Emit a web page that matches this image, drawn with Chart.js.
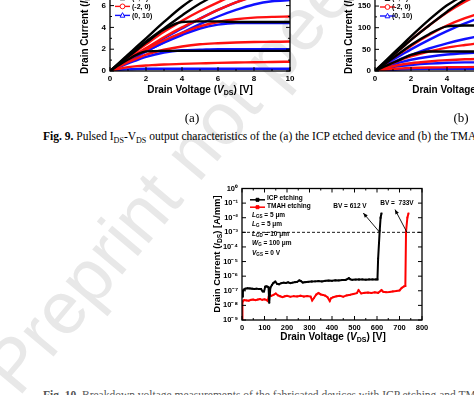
<!DOCTYPE html>
<html>
<head>
<meta charset="utf-8">
<title>Fig. 9 / Fig. 10</title>
<script src="https://cdn.jsdelivr.net/npm/chart.js@4.4.1/dist/chart.umd.min.js"></script>
<style>
  html, body { margin: 0; padding: 0; background: #fff; }
  body { position: relative; width: 474px; height: 395px; overflow: hidden; }
  .box { position: absolute; }
  .txt { position: absolute; white-space: nowrap; font-family: "Liberation Sans", Arial, sans-serif; font-weight: bold; color: #000; line-height: 1; }
  .mid { transform: translate(-50%, -50%); }
  .lft { transform: translateY(-50%); }
  .rot { transform: translate(-50%, -50%) rotate(-90deg); }
  .rotb { transform-origin: 0 0; transform: rotate(-90deg); line-height: 12px; }
  sub { font-size: 70%; vertical-align: -0.3em; line-height: 0; }
  .serif { font-family: "Liberation Serif", "Times New Roman", serif; font-weight: normal; }
  #wm { position: absolute; left: 30px; top: 328px; height: 80px; line-height: 80px; transform-origin: 0 100%; transform: rotate(-50deg);
        font-family: "Liberation Sans", Arial, sans-serif; font-size: 74px; color: #e8e8e8; white-space: nowrap; }
</style>
</head>
<body>
<div id="wm">Preprint not peer reviewed</div>

<div class="box" style="left:60px;top:-25px;width:245px;height:111px"><canvas id="chartA"></canvas></div>
<div class="box" style="left:325px;top:-25px;width:245px;height:111px"><canvas id="chartB"></canvas></div>
<div class="box" style="left:190px;top:180px;width:245px;height:155px"><canvas id="chartMain"></canvas></div>

<!-- (a) -->
<div class="txt lft" style="left:132px;top:-3px;font-size:7px">(0, 0)</div>
<div class="txt lft" style="left:132px;top:6px;font-size:7px">(-2, 0)</div>
<div class="txt lft" style="left:132px;top:15px;font-size:7px">(0, 10)</div>
<div class="txt rotb" style="left:79px;top:74px;font-size:10px">Drain Current (<i>I</i><sub>DS</sub>) [A/mm]</div>
<div class="txt mid" style="left:200px;top:90px;font-size:10px">Drain Voltage (<i>V</i><sub>DS</sub>) [V]</div>
<div class="txt mid serif" style="left:192px;top:117px;font-size:13px">(a)</div>

<!-- (b) -->
<div class="txt lft" style="left:392px;top:-3px;font-size:7px">(0, 0)</div>
<div class="txt lft" style="left:392px;top:6px;font-size:7px">(-2, 0)</div>
<div class="txt lft" style="left:392px;top:15px;font-size:7px">(0, 10)</div>
<div class="txt rotb" style="left:343px;top:74px;font-size:10px">Drain Current (<i>I</i><sub>DS</sub>) [mA/mm]</div>
<div class="txt mid" style="left:465px;top:90px;font-size:10px">Drain Voltage (<i>V</i><sub>DS</sub>) [V]</div>
<div class="txt mid serif" style="left:461px;top:117px;font-size:13px">(b)</div>

<div class="txt lft serif" style="left:43px;top:137px;font-size:11.5px"><b>Fig. 9.</b> Pulsed I<sub>DS</sub>-V<sub>DS</sub> output characteristics of the (a) the ICP etched device and (b) the TMAH etched device.</div>

<!-- breakdown chart -->
<div class="txt rot" style="left:217px;top:254px;font-size:9.5px">Drain Current (<i>I</i><sub>DS</sub>) [A/mm]</div>
<div class="txt mid" style="left:333px;top:337px;font-size:10px">Drain Voltage (<i>V</i><sub>DS</sub>) [V]</div>
<div class="txt lft" style="left:267px;top:198px;font-size:6.5px">ICP etching</div>
<div class="txt lft" style="left:267px;top:206px;font-size:6.5px">TMAH etching</div>
<div class="txt lft" style="left:252px;top:215px;font-size:6.5px"><i>L</i><sub>GS</sub> = 5 &mu;m</div>
<div class="txt lft" style="left:252px;top:224px;font-size:6.5px"><i>L</i><sub>G</sub> = 5 &mu;m</div>
<div class="txt lft" style="left:252px;top:233.5px;font-size:6.5px"><i>L</i><sub>GD</sub> = 10 &mu;m</div>
<div class="txt lft" style="left:252px;top:243px;font-size:6.5px"><i>W</i><sub>G</sub> = 100 &mu;m</div>
<div class="txt lft" style="left:252px;top:252.5px;font-size:6.5px"><i>V</i><sub>GS</sub> = 0 V</div>
<div class="txt mid" style="left:350px;top:206px;font-size:6.5px">BV = 612 V</div>
<div class="txt mid" style="left:397px;top:203px;font-size:6.5px">BV =&nbsp; 733V</div>

<div class="txt serif" style="left:43px;top:390px;font-size:11.5px;color:#555"><b>Fig. 10.</b> Breakdown voltage measurements of the fabricated devices with ICP etching and TMAH etching.</div>

<script>
// 1) pulsed I-V data (x = V_DS)
const vdTop = [0, 0.5, 1, 1.5, 2, 3, 4, 5, 6, 7, 8, 9, 10];

// (a) ICP etched, A/mm
const aBlack = [
  [0, 0.55, 1.05, 1.5, 1.8, 1.85, 1.85, 1.85, 1.85, 1.85, 1.85, 1.85, 1.85],
  [0, 0.65, 1.3, 1.95, 2.6, 3.8, 4.5, 4.55, 4.55, 4.5, 4.5, 4.5, 4.5],
  [0, 0.75, 1.5, 2.25, 3.0, 4.5, 5.9, 7.0, 7.6, 7.9, 8.0, 8.0, 8.0],
  [0, 0.7, 1.4, 2.05, 2.7, 3.9, 5.1, 6.2, 7.0, 7.5, 7.8, 7.9, 8.0]
];
const aRed = [
  [0, 0.2, 0.35, 0.45, 0.5, 0.6, 0.65, 0.7, 0.75, 0.78, 0.8, 0.83, 0.85],
  [0, 0.4, 0.8, 1.15, 1.5, 1.95, 2.25, 2.45, 2.55, 2.62, 2.66, 2.68, 2.7],
  [0, 0.5, 1.0, 1.5, 1.95, 2.8, 3.5, 4.1, 4.5, 4.75, 4.9, 4.97, 5.0],
  [0, 0.55, 1.1, 1.6, 2.1, 3.1, 4.0, 4.8, 5.6, 6.3, 6.8, 7.1, 7.2],
  [0, 0.6, 1.25, 1.85, 2.45, 3.6, 4.6, 5.5, 6.3, 7.0, 7.5, 7.8, 8.0]
];
const aBlue = [
  [0, 0.1, 0.15, 0.18, 0.2, 0.2, 0.2, 0.2, 0.2, 0.2, 0.2, 0.2, 0.2],
  [0, 0.35, 0.7, 1.0, 1.3, 1.7, 1.9, 1.95, 2.0, 2.0, 2.0, 2.0, 2.0],
  [0, 0.45, 0.9, 1.35, 1.8, 2.6, 3.3, 3.9, 4.25, 4.4, 4.4, 4.4, 4.4],
  [0, 0.45, 0.9, 1.35, 1.8, 2.65, 3.5, 4.3, 5.0, 5.6, 6.1, 6.4, 6.5],
  [0, 0.5, 1.0, 1.5, 2.0, 3.0, 3.9, 4.8, 5.6, 6.3, 6.9, 7.3, 7.6]
];

// (b) TMAH etched, mA/mm
const bBlack = [
  [0, 10, 19, 28, 37, 45, 45, 45, 45, 45, 45, 45, 45],
  [0, 15, 30, 45, 60, 85, 103, 105, 105, 105, 105, 105, 105],
  [0, 20, 40, 60, 80, 118, 152, 175, 190, 198, 202, 205, 206],
  [0, 18, 36, 54, 72, 105, 137, 165, 182, 192, 198, 201, 203]
];
const bRed = [
  [0, 3, 5, 6, 7, 8, 8.5, 9, 9.5, 10, 10, 10, 10],
  [0, 6, 11, 15, 18, 22, 25, 27, 28, 29, 30, 30, 30],
  [0, 10, 19, 27, 34, 45, 54, 60, 65, 68, 70, 71, 72],
  [0, 15, 30, 44, 58, 83, 105, 122, 135, 143, 148, 151, 153],
  [0, 18, 36, 54, 72, 105, 135, 160, 180, 193, 200, 203, 205]
];
const bBlue = [
  [0, 1.5, 3, 4, 4.5, 5, 5, 5, 5, 5, 5, 5, 5],
  [0, 5, 9, 12, 14, 17, 19, 20, 20, 20, 20, 20, 20],
  [0, 8, 15, 21, 26, 33, 38, 41, 43, 44, 45, 45, 45],
  [0, 10, 20, 29, 37, 52, 64, 74, 82, 88, 92, 94, 95],
  [0, 13, 26, 38, 50, 72, 92, 110, 125, 137, 146, 152, 155]
];

// 2) breakdown data
const vIcp = [0, 4, 8, 15, 25, 35, 45, 55, 65, 75, 85, 92, 98, 103, 108, 113, 118, 121, 126, 133,
  140, 148, 156, 165, 175, 185, 195, 205, 215, 225, 235, 245, 255, 262, 270, 280, 295, 310, 325, 340,
  355, 370, 385, 400, 415, 430, 445, 460, 475, 482, 490, 505, 520, 535, 550, 565, 580, 595, 602, 605,
  612, 616, 620];
const iIcp = [4e-8, 1e-7, 1.2e-7, 1.4e-7, 1.5e-7, 1.45e-7, 1.4e-7, 1.35e-7, 1.4e-7, 1.3e-7, 1.3e-7, 9e-8, 9e-8, 1.9e-7, 2e-7, 1.9e-7, 1.7e-7, 1.5e-8, 1.6e-7, 2.5e-7,
  3.5e-7, 4.2e-7, 3e-7, 2.8e-7, 3.3e-7, 3.6e-7, 3.4e-7, 3.8e-7, 3.3e-7, 3.6e-7, 3.9e-7, 4.1e-7, 5.2e-7, 4.6e-7, 3.7e-7, 3.9e-7, 4.1e-7, 4.3e-7, 4.4e-7, 4.6e-7,
  4.4e-7, 4.8e-7, 5e-7, 4.8e-7, 5.2e-7, 5.1e-7, 5.4e-7, 5.5e-7, 7.2e-7, 6e-7, 5.6e-7, 5.8e-7, 5.9e-7, 6e-7, 5.8e-7, 6e-7, 6e-7, 6e-7, 6e-7, 1.6e-5,
  1.3e-3, 1e-2, 2e-2];
const vTmah = [0, 2, 5, 10, 20, 30, 40, 50, 60, 70, 80, 90, 100, 108, 114, 119, 124, 130, 140, 150,
  160, 170, 180, 190, 200, 215, 230, 245, 260, 275, 290, 305, 312, 320, 330, 340, 350, 360, 370, 380,
  390, 395, 405, 420, 435, 450, 465, 480, 495, 510, 518, 530, 545, 560, 575, 590, 605, 620, 628, 640,
  655, 670, 685, 700, 710, 720, 726, 729, 735, 740];
const iTmah = [1e-9, 1.6e-8, 2e-8, 2.3e-8, 2.2e-8, 2.1e-8, 2.4e-8, 2.5e-8, 2.3e-8, 2.5e-8, 2.7e-8, 2.4e-8, 2.6e-8, 2.4e-8, 2e-8, 4.2e-8, 5e-8, 4.5e-8, 5.2e-8, 6.5e-8,
  4.8e-8, 4.2e-8, 3.6e-8, 4.2e-8, 4.5e-8, 3.9e-8, 4.3e-8, 4.1e-8, 4.6e-8, 4e-8, 4.3e-8, 4e-8, 2.2e-8, 3.2e-8, 5.5e-8, 7e-8, 5.6e-8, 5.2e-8, 4.6e-8, 3.6e-8,
  2e-8, 3e-8, 3.6e-8, 4.2e-8, 4.5e-8, 3.9e-8, 4.8e-8, 5.3e-8, 6e-8, 6.8e-8, 1.1e-7, 6.5e-8, 7.2e-8, 7.5e-8, 7e-8, 7.8e-8, 7.2e-8, 1.1e-7, 8.5e-8, 8e-8,
  8.3e-8, 9e-8, 9.5e-8, 1.05e-7, 1.6e-7, 2e-7, 2.1e-7, 1.1e-3, 1e-2, 2e-2];

// 1 mA/mm criterion line and the BV arrows (tail on the line, head near the label)
const critV = [0, 800];
const critI = [1e-3, 1e-3];
const bvV = [612, 733];
const arrowHeadV = [539, 680];
const arrowHeadI = [2.1e-2, 3.6e-2];

// 3) ticks
const mainXTicks = [0, 100, 200, 300, 400, 500, 600, 700, 800];
const mainXMinor = [50, 150, 250, 350, 450, 550, 650, 750];
const mainYTicks = [1e-9, 1e-8, 1e-7, 1e-6, 1e-5, 1e-4, 1e-3, 1e-2, 1e-1, 1];
const topXMinor = [1, 3, 5, 7, 9];
const aYMinor = [1, 3, 5, 7];
const bYMinor = [25, 75, 125, 175];

const FONT = "'Liberation Sans', Arial, sans-serif";
const SUP = { '-': '\u207B', '0': '\u2070', '1': '\u00B9', '2': '\u00B2', '3': '\u00B3', '4': '\u2074',
  '5': '\u2075', '6': '\u2076', '7': '\u2077', '8': '\u2078', '9': '\u2079' };
const sup = n => String(n).split('').map(c => SUP[c]).join('');

// frame with inward ticks on all four sides (Origin style)
const framePlugin = {
  id: 'frame',
  afterDatasetsDraw(chart, args, opts) {
    const { ctx, chartArea: a, scales: { x, y } } = chart;
    const seg = (x1, y1, x2, y2) => { ctx.beginPath(); ctx.moveTo(x1, y1); ctx.lineTo(x2, y2); ctx.stroke(); };
    ctx.save();
    ctx.strokeStyle = '#000';
    ctx.lineWidth = 1;
    x.ticks.forEach(t => {
      const p = x.getPixelForValue(t.value);
      seg(p, a.bottom, p, a.bottom - 4); seg(p, a.top, p, a.top + 4);
    });
    (opts.xMinor || []).forEach(v => {
      const p = x.getPixelForValue(v);
      seg(p, a.bottom, p, a.bottom - 2); seg(p, a.top, p, a.top + 2);
    });
    y.ticks.forEach(t => {
      const p = y.getPixelForValue(t.value);
      seg(a.left, p, a.left + 4, p); seg(a.right, p, a.right - 4, p);
    });
    (opts.yMinor || []).forEach(v => {
      const p = y.getPixelForValue(v);
      seg(a.left, p, a.left + 2, p); seg(a.right, p, a.right - 2, p);
    });
    ctx.lineWidth = 1.3;
    ctx.strokeRect(a.left, a.top, a.right - a.left, a.bottom - a.top);
    ctx.restore();
  }
};

// legend sample lines + markers (labels are html text)
function marker(ctx, style, cx, cy, r) {
  ctx.beginPath();
  if (style === 'rect') ctx.rect(cx - r, cy - r, 2 * r, 2 * r);
  else if (style === 'circle') ctx.arc(cx, cy, r, 0, Math.PI * 2);
  else { ctx.moveTo(cx, cy - r * 1.15); ctx.lineTo(cx + r, cy + r * 0.75); ctx.lineTo(cx - r, cy + r * 0.75); ctx.closePath(); }
  ctx.fill(); ctx.stroke();
}
const legendPlugin = {
  id: 'legendSamples',
  afterDraw(chart, args, opts) {
    if (!opts.items) return;
    const { ctx, chartArea: a } = chart;
    ctx.save();
    opts.items.forEach((it, i) => {
      const y = a.top + opts.y0 + i * opts.dy;
      ctx.strokeStyle = it.color;
      ctx.lineWidth = opts.lw;
      ctx.beginPath(); ctx.moveTo(a.left + opts.x0, y); ctx.lineTo(a.left + opts.x1, y); ctx.stroke();
      ctx.fillStyle = it.open ? '#fff' : it.color;
      ctx.lineWidth = 1;
      marker(ctx, it.style, a.left + (opts.x0 + opts.x1) / 2, y, opts.r);
    });
    ctx.restore();
  }
};

// BV arrows
const arrowPlugin = {
  id: 'bvArrows',
  afterDatasetsDraw(chart, args, opts) {
    if (!opts.show) return;
    const { ctx, scales: { x, y } } = chart;
    ctx.save();
    ctx.strokeStyle = '#000';
    ctx.fillStyle = '#000';
    ctx.lineWidth = 0.9;
    bvV.forEach((v, i) => {
      const x1 = x.getPixelForValue(v), y1 = y.getPixelForValue(1e-3);
      const x2 = x.getPixelForValue(arrowHeadV[i]), y2 = y.getPixelForValue(arrowHeadI[i]);
      const ang = Math.atan2(y2 - y1, x2 - x1);
      ctx.beginPath(); ctx.moveTo(x1, y1); ctx.lineTo(x2, y2); ctx.stroke();
      ctx.beginPath();
      ctx.moveTo(x2, y2);
      ctx.lineTo(x2 - 5 * Math.cos(ang - 0.4), y2 - 5 * Math.sin(ang - 0.4));
      ctx.lineTo(x2 - 5 * Math.cos(ang + 0.4), y2 - 5 * Math.sin(ang + 0.4));
      ctx.closePath(); ctx.fill();
    });
    ctx.restore();
  }
};

const xy = (xs, ys) => xs.map((v, i) => ({ x: v, y: ys[i] }));

function fixAxes(yWidth, xHeight) {
  return {
    y: s => { s.width = yWidth; },
    x: s => { s.height = xHeight; s.paddingLeft = 0; s.paddingRight = 0; }
  };
}

// 4) pulsed I-V charts
function ivChart(id, fams, yMax, yStep, yMinor, padTop) {
  const fit = fixAxes(50, 15);
  const datasets = [];
  fams.forEach(f => {
    f.curves.forEach(c => datasets.push({
      data: xy(vdTop, c),
      borderColor: f.color,
      borderWidth: 2.4,
      pointRadius: 0,
      cubicInterpolationMode: 'monotone'
    }));
  });
  return new Chart(document.getElementById(id), {
    type: 'line',
    data: { datasets },
    options: {
      responsive: true,
      maintainAspectRatio: false,
      animation: false,
      layout: { padding: { top: padTop, right: 15, left: 0, bottom: 0 } },
      plugins: {
        legend: { display: false },
        tooltip: { enabled: false },
        frame: { xMinor: topXMinor, yMinor },
        legendSamples: {
          x0: 5, x1: 20, y0: 13.6, dy: 9, lw: 1.4, r: 2.4,
          items: [
            { color: '#000', style: 'rect', open: false },
            { color: '#ff1010', style: 'circle', open: true },
            { color: '#1010ff', style: 'triangle', open: true }
          ]
        }
      },
      scales: {
        x: {
          type: 'linear', min: 0, max: 10,
          grid: { display: false, drawTicks: false }, border: { display: false },
          ticks: { stepSize: 2, padding: 3, color: '#000', font: { family: FONT, size: 8, weight: 'bold' } },
          afterFit: fit.x
        },
        y: {
          min: 0, max: yMax,
          grid: { display: false, drawTicks: false }, border: { display: false },
          ticks: { stepSize: yStep, padding: 4, color: '#000', font: { family: FONT, size: 8, weight: 'bold' } },
          afterFit: fit.y
        }
      }
    },
    plugins: [framePlugin, legendPlugin]
  });
}

ivChart('chartA', [
  { color: '#000', curves: aBlack },
  { color: '#ff1010', curves: aRed },
  { color: '#1010ff', curves: aBlue }
], 8, 2, aYMinor, 8.4);

ivChart('chartB', [
  { color: '#000', curves: bBlack },
  { color: '#ff1010', curves: bRed },
  { color: '#1010ff', curves: bBlue }
], 200, 50, bYMinor, 9.4);

// 5) breakdown chart
const mainFit = fixAxes(52, 15);
new Chart(document.getElementById('chartMain'), {
  type: 'line',
  data: {
    datasets: [
      { label: 'ICP etching', data: xy(vIcp, iIcp), borderColor: '#000', backgroundColor: '#000',
        borderWidth: 2, pointRadius: 1.3, pointStyle: 'rect', pointBorderWidth: 0 },
      { label: 'TMAH etching', data: xy(vTmah, iTmah), borderColor: '#ff0000', backgroundColor: '#ff0000',
        borderWidth: 2, pointRadius: 1.2, pointStyle: 'rect', pointBorderWidth: 0 },
      { label: 'criterion', data: xy(critV, critI), borderColor: '#000', borderWidth: 0.9,
        borderDash: [3, 2], pointRadius: 0 }
    ]
  },
  options: {
    responsive: true,
    maintainAspectRatio: false,
    animation: false,
    layout: { padding: { top: 7, right: 13, left: 0, bottom: 0 } },
    plugins: {
      legend: { display: false },
      tooltip: { enabled: false },
      frame: { xMinor: mainXMinor },
      bvArrows: { show: true },
      legendSamples: {
        x0: 8, x1: 23, y0: 11.3, dy: 7.4, lw: 1.5, r: 1.5,
        items: [
          { color: '#000', style: 'rect', open: false },
          { color: '#ff0000', style: 'rect', open: false }
        ]
      }
    },
    scales: {
      x: {
        type: 'linear', min: 0, max: 800,
        grid: { display: false, drawTicks: false }, border: { display: false },
        afterBuildTicks: s => { s.ticks = mainXTicks.map(v => ({ value: v })); },
        ticks: { padding: 3, color: '#000', font: { family: FONT, size: 7.5, weight: 'bold' } },
        afterFit: mainFit.x
      },
      y: {
        type: 'logarithmic', min: 1e-9, max: 1,
        grid: { display: false, drawTicks: false }, border: { display: false },
        afterBuildTicks: s => { s.ticks = mainYTicks.map(v => ({ value: v })); },
        ticks: {
          padding: 4, color: '#000', font: { family: FONT, size: 7.5, weight: 'bold' },
          callback: v => '10' + sup(Math.round(Math.log10(v)))
        },
        afterFit: mainFit.y
      }
    }
  },
  plugins: [framePlugin, legendPlugin, arrowPlugin]
});
</script>
</body>
</html>
